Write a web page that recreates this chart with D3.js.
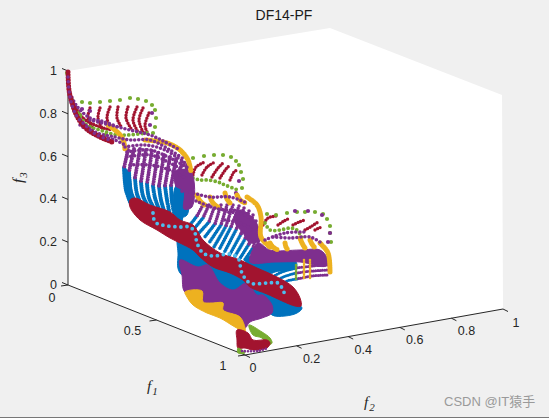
<!DOCTYPE html>
<html>
<head>
<meta charset="utf-8">
<script src="https://cdnjs.cloudflare.com/ajax/libs/d3/7.8.5/d3.min.js"></script>
<style>
  body { margin: 0; background: #f0f0f0; }
  svg { display: block; }
</style>
</head>
<body>
<svg id="chart" width="549" height="418"></svg>
<script>
// ticks
const f1Ticks = [0, 0.5, 1];
const f2Ticks = [0, 0.2, 0.4, 0.6, 0.8, 1];
const f3Ticks = [0, 0.2, 0.4, 0.6, 0.8, 1];

// the cloud can only be read as seen from this camera, so every value below is
// [across, up] in the plane of the picture, not a real f1,f2,f3 triple
const fanOuter = [
  [7,91.5],[11,91],[16,91.5],[21,92],[26,92.5],[31,93.5],[35,93],[39,92],[42,90],[43.5,87.5],[44,83.5],[43.5,79],[42.5,76],
  [62.5,63.5],[68,64.5],[73,65],[77.5,65],[81.5,64],[84,62],[85.5,60],[86.5,56.5],[87.5,53],[87,48.5],
  [99.5,35.5],[104,35],[109.5,36],[114.5,36.5],[118.5,36.5],[123.5,36.5],[127.5,35.5],[129.5,33],[131,29.5],[131,26],[131.5,21.5],
  [-0.5,106],[0,101],[2,92.5],[6,85],[11,79],[18.5,75]
];
const fanPurpleDots = [[85.5,52],[84,46],[113.5,37],[120,37],[127,35],[131,26],[130,21.5],[7,88],[11,87],[42,86],[41,80]];
const fanRed = [
  [[11,88.5],[10,84],[12,79]], [[16,88.5],[15,83.5],[17.5,77.5]], [[21,89],[19.5,83.5],[22,77.5]],
  [[25,89],[24.5,83.5],[27,78.5]], [[30,89],[29,83.5],[32,77.5]], [[34.5,89],[32.5,82.5],[35,76.5]],
  [[37.5,88.5],[35.5,82.5],[37.5,76.5]], [[40.5,86],[38.5,80],[39.5,76.5]],
  [[2,92.5],[7.5,83.5],[16,79],[22,77.5]],
  [[62.5,55],[64,59],[68.5,61.5]], [[67,55],[69.5,59],[73.5,61.5]], [[72,54],[75,58.5],[77.5,61]],
  [[76,53.5],[79,58],[81,60]], [[81,52.5],[83,56.5],[84.5,57.5]],
  [[97.5,30],[100,33.5],[104.5,34.5]], [[105,30],[108,32],[111,33.5]], [[112.5,30],[115.5,31.5],[118.5,32.5]],
  [[118.5,27.5],[122,29.5],[125,31.5]], [[123.5,27.5],[125.5,28.5],[127,29]]
];
const fanGreen = [
  [[5,86],[9.5,80],[16,77.5],[25,75],[39.5,76]],
  [[62.5,53.5],[66,52.5],[70,52.5],[75,51.5],[78.5,50],[85,47.5]],
  [[98.5,31],[101,27.5],[106,27.5],[111,28.5],[114.5,27.5],[117.5,22.5]]
];
const fanPurple = [
  [[6,82.5],[13.5,76.5],[23.5,74],[31,72.5],[41,72.5],[51,67.5],[58.5,62.5]],
  [[11,82.5],[21,80],[31,77.5],[41,75],[48.5,71.5],[56,67.5]],
  [[0.5,97.5],[4,90],[11,83.5],[18.5,81.5],[26,78.5]],
  [[6,80],[13.5,75],[23.5,72.5],[28.5,70]],
  [[28.5,69],[38.5,70],[48.5,67.5],[58.5,61]],
  [[29.5,66.5],[41,67.5],[51,63.5],[60,58.5]],
  [[29.5,64],[41,65],[51,61],[59,56.5]],
  [[31,60],[41,60],[51,57.5],[58.5,53.5]],
  [[61,46.5],[71,44],[81,44],[89.5,41]],
  [[64,42],[75,38],[85,37],[92,33]],
  [[78.5,36.5],[88.5,35],[94,30]],
  [[78.5,32.5],[88.5,30],[94,25]],
  [[102.5,24],[111,23.5],[121,24],[126,21.5]],
  [[98.5,22.5],[108.5,26],[118.5,26.5]]
];
const leftEdgeRed = [[0,106.5],[0.5,97.5],[2,91],[5,83.5],[10,77.5],[16,74],[22,71.5]];
const leftEdgePurple = [[0,104],[1,94],[4,85],[8.5,80],[14.5,75],[21,72.5]];

// first value is the ridge end, second the purple to blue change, rest is blue
const ribsUpper = [
  [[30,67.5],[28,58.5],[29,47.5],[31.5,40.5]], [[33,68],[30.5,56.5],[31.5,46.5],[34.5,39.5]],
  [[36,68],[33.5,53.5],[34.5,45.5],[37.5,38.5]], [[39,67.5],[36.5,51.5],[37.5,44.5],[40.5,38.5]],
  [[42,67],[39.5,50.5],[40.5,43.5],[43.5,37.5]], [[45,66],[42.5,49.5],[43.5,43.5],[46,36.5]],
  [[48,65],[45.5,49.5],[46.5,42.5],[48.5,35.5]], [[51,64],[48.5,49.5],[49.5,42.5],[51,34.5]],
  [[54,63],[51.5,49.5],[52,41.5],[53.5,34]], [[57,61.5],[54.5,49.5],[54.5,41.5],[55,33.5]],
  [[59.5,60],[57,46.5],[57,40.5],[56.5,32.5]]
];
const ribsMiddle = [
  [[67.5,40],[64.5,34.5],[61,30]], [[70.5,40],[67.5,33.5],[63,28]], [[73.5,40],[70.5,31.5],[65.5,26]],
  [[76.5,40],[73.5,30.5],[68,23.5]], [[79.5,40],[76.5,30],[70.5,21]], [[82.5,40],[79,29.5],[73,19]],
  [[85.5,39.5],[81.5,29],[75.5,17.5]], [[88,38.5],[84,27.5],[78,16]], [[90.5,37],[86.5,25.5],[80.5,14.5]],
  [[92.5,35],[88.5,23],[83,13.5]], [[94,32],[90.5,20.5],[85.5,12.5]], [[95.5,28.5],[92.5,18.5],[88,12]],
  [[96,24.5],[94,17.5],[91,11]]
];
const ribsLowerPurple = [
  [[130,10],[122,9.5],[114,8.5]], [[130.5,7.5],[122,7],[114,6]], [[129.5,5],[122,4.5],[114.5,3]]
];
const ribsLowerBlue = [
  [[114,8.5],[107,6.5],[101,3.5]], [[114,6],[107.5,4],[102.5,1]], [[114.5,3],[109.5,2],[105.5,-0.5]]
];

const goldRidges = [
  [[20,80],[23.5,77.5],[26.5,74.5],[28,71],[28.5,67.5]],
  [[38.5,72.5],[49.5,71],[56,67.5],[60,62.5],[61.5,56.5]],
  [[64.5,45],[66,42],[68.5,40]], [[71,44],[72.5,41],[75,39]], [[78.5,46],[79.5,43],[81,41]], [[84.5,45],[86,42.5],[88.5,41]],
  [[89.5,44],[94.5,40],[96.5,34],[96.5,24],[101,19]],
  [[101,21],[102.5,19],[105,17.5]], [[108.5,21],[109,19],[110,17.5]], [[116,23.5],[117,21],[118.5,18.5]], [[121,22.5],[122,20.5],[123.5,18.5]],
  [[126,21],[130,16],[131,6.5]]
];
const goldStubs = [[[118,12.5],[118,2.5]], [[121,12.5],[121,2.5]]];
const greenStubs = [[[114,10],[114,2.5]]];

// solid looking bands
const blueBlockLeft = [[28,58.5],[30.5,56.5],[32.5,45],[36,39],[31.5,40],[29,47.5]];
const blueBlockRight = [[54,49.5],[59,47.5],[59.5,35],[54,34]];
const blueBlockLow = [[88.5,13.5],[101,13.5],[114,11.5],[114,8.5],[103.5,6.5],[97,3.5],[91,8.5]];
const blueBand = [[55,24],[62.5,18.5],[66,15],[72.5,10],[81,7.5],[87.5,3.5],[91,0],[99.5,-3],[111,-7.5],[117,-11.5],[114.5,-14],[108.5,-15.5],[102,-15],[97.5,-8],[80,-4],[56,6],[55,16]];
const purpleBlock = [[53.5,57],[61.5,56.5],[62,39],[58,38],[58,47],[54,49.5]];
const purpleBlockMid = [[86,37.5],[94,31.5],[95.5,22.5],[91,21],[87.5,26],[83.5,31.5]];
const purpleBlockLow = [[95,21],[101,17.5],[116,17.5],[126,17.5],[129.5,13.5],[129,9.5],[116,11.5],[103.5,11.5],[91,11.5]];
const purpleBand = [[56,12.5],[65,9],[70,10],[76,1],[82.5,-2.5],[89.5,1],[94.5,-5],[97.5,-5],[102,-10],[102,-14],[97,-16.5],[91,-18.5],[88.5,-21.5],[86,-16],[77.5,-12.5],[77.5,-9],[72,-9],[67.5,-8.5],[67,-3],[58.5,-3.5],[57,5]];
const goldBand = [[58.5,-3.5],[67,-3],[67.5,-8.5],[72,-9],[77.5,-9],[77.5,-12.5],[86,-16],[88.5,-21.5],[88.5,-23.5],[83.5,-21],[76,-16.5],[69.5,-14],[62.5,-10],[59.5,-6]];
const redBand = [[31,42.5],[33.5,43.5],[41,40],[51,36.5],[56,32.5],[62.5,30],[65,26.5],[67.5,22.5],[76,16],[86,12.5],[94.5,8.5],[104.5,4],[112.5,-1],[116,-6.5],[116.5,-10.5],[113.5,-10.5],[99.5,-4.5],[91,-1],[87.5,2.5],[81,6],[72.5,9],[66,14],[62.5,17.5],[56,21],[51,23.5],[44.5,27.5],[36,32.5],[31,39]];
const capRed = [[84.5,-22.5],[90,-24],[92.5,-27.5],[99.5,-27.5],[101,-29],[99.5,-31.5],[92.5,-32.5],[88.5,-31.5],[85,-31.5],[84.5,-27.5]];
const capGreen = [[90.5,-20],[97,-23.5],[101,-26.5],[102,-29],[100,-30],[97,-26.5],[92.5,-25]];
const capTip = [[85,-31.5],[88.5,-34],[85,-34]];
const capEdge = [[87,-33],[95,-33],[100,-31.5]];
const cyanPath = [[42.5,36],[43.5,31.5],[47,30],[56,29],[61,29],[63.5,26],[64.5,21],[67.5,16],[72.5,14.5],[81,15.5],[85,13.5],[87,6],[91,1],[99.5,1],[105,1],[107.5,-2.5],[109,-6.5]];

const colors = { blue: "#0072BD", red: "#A2142F", gold: "#EDB120", purple: "#7E2F8E", green: "#77AC30", cyan: "#4DBEEE" };
const inkColor = "#262626";

const svg = d3.select("#chart");

// 3d box as it lands on screen
const boxCorners = [[68,71],[330,28],[502,95],[503,309],[245,355],[68,285]];
svg.append("polygon").attr("points", boxCorners.join(" ")).attr("fill", "#fff");

const f1Scale = d3.scaleLinear().domain([0, 1]).range([[68, 285], [245, 355]]);
const f2Scale = d3.scaleLinear().domain([0, 1]).range([[245, 355], [503, 309]]);
const f3Scale = d3.scaleLinear().domain([0, 1]).range([[68, 285], [68, 71]]);

// picture plane scales for the cloud
const vx = d3.scaleLinear().domain([0, 200]).range([68, 468]);
const vy = d3.scaleLinear().domain([0, 100]).range([285, 85]);

function drawAxis(scale, ticks, tickVec) {
  const g = svg.append("g").attr("stroke", inkColor).attr("fill", "none");
  g.append("line")
    .attr("x1", scale(0)[0]).attr("y1", scale(0)[1])
    .attr("x2", scale(1)[0]).attr("y2", scale(1)[1]);
  g.selectAll("line.tick").data(ticks).join("line")
    .attr("class", "tick")
    .attr("x1", d => scale(d)[0]).attr("y1", d => scale(d)[1])
    .attr("x2", d => scale(d)[0] + tickVec[0]).attr("y2", d => scale(d)[1] + tickVec[1]);
}
drawAxis(f1Scale, f1Ticks, [-7, 1]);
drawAxis(f2Scale, f2Ticks, [5, 2.5]);
drawAxis(f3Scale, f3Ticks, [-6, -2.5]);

function tickLabels(scale, ticks, anchor, dx, dy) {
  svg.append("g").selectAll("text").data(ticks).join("text")
    .attr("x", d => scale(d)[0] + dx(d))
    .attr("y", d => scale(d)[1] + dy(d))
    .attr("text-anchor", anchor)
    .attr("font-family", "'Liberation Sans', Arial, sans-serif")
    .attr("font-size", 12.5)
    .attr("fill", inkColor)
    .text(d => d);
}
tickLabels(f3Scale, f3Ticks, "end", () => -11, () => 4);
tickLabels(f1Scale, f1Ticks, "middle", d => d == 0 ? -16 : d == 1 ? -22 : -24, d => d == 0 ? 17 : 15);
tickLabels(f2Scale, f2Ticks, "middle", d => d == 0 ? 8 : d == 1 ? 13 : 15, d => d == 1 ? 18 : 17);

// cloud helpers
const smooth = d3.line().x(d => vx(d[0])).y(d => vy(d[1])).curve(d3.curveCatmullRom);
const closed = d3.line().x(d => vx(d[0])).y(d => vy(d[1])).curve(d3.curveCatmullRomClosed);

function dotted(rows, color, width, gap) {
  svg.append("g").selectAll("path").data(rows).join("path")
    .attr("d", smooth)
    .attr("fill", "none")
    .attr("stroke", color)
    .attr("stroke-width", width)
    .attr("stroke-linecap", "round")
    .attr("stroke-dasharray", `0 ${gap}`);
}
function band(points, color) {
  svg.append("path").attr("d", closed(points)).attr("fill", color).attr("stroke", color).attr("stroke-width", 1);
}
function dots(points, color) {
  svg.append("g").selectAll("circle").data(points).join("circle")
    .attr("cx", d => vx(d[0])).attr("cy", d => vy(d[1])).attr("r", 2.1).attr("fill", color);
}

dotted(fanRed, colors.red, 3.4, 2.8);
dotted(fanGreen, colors.green, 3.8, 4.5);
dots(fanOuter, colors.green);
dots(fanPurpleDots, colors.purple);

dotted(ribsUpper.map(r => r.slice(1)), colors.blue, 4.2, 2);
dotted(ribsMiddle.map(r => r.slice(1)), colors.blue, 3.6, 2);
dotted(ribsLowerBlue, colors.blue, 3, 2);
band(blueBlockLeft, colors.blue);
band(blueBlockRight, colors.blue);
band(blueBlockLow, colors.blue);

dotted(ribsUpper.map(r => r.slice(0, 2)), colors.purple, 4, 2.4);
dotted(ribsMiddle.map(r => r.slice(0, 2)), colors.purple, 3.6, 2.4);
band(purpleBlock, colors.purple);
band(purpleBlockMid, colors.purple);
band(purpleBlockLow, colors.purple);
dotted(ribsLowerPurple, colors.purple, 3, 2.2);

dotted(goldRidges, colors.gold, 5, 1.6);
dotted(goldStubs, colors.gold, 2.6, 2);
dotted(greenStubs, colors.green, 2.6, 2);
dotted(fanPurple, colors.purple, 3.6, 4);
dotted([leftEdgeRed], colors.red, 5, 2.8);
dotted([leftEdgePurple], colors.purple, 3.6, 5);

band(blueBand, colors.blue);
band(purpleBand, colors.purple);
band(goldBand, colors.gold);
band(redBand, colors.red);
band(capGreen, colors.green);
band(capRed, colors.red);
band(capTip, colors.green);
dotted([capEdge], colors.purple, 2.6, 3);
dotted([cyanPath], colors.cyan, 3.8, 6);

// text
svg.append("text").attr("x", 284).attr("y", 20).attr("text-anchor", "middle")
  .attr("font-family", "'Liberation Sans', Arial, sans-serif").attr("font-size", 14).attr("fill", "#1a1a1a")
  .text("DF14-PF");

function axisName(sub, transform) {
  const t = svg.append("text").attr("transform", transform)
    .attr("font-family", "'Liberation Serif', serif").attr("font-style", "italic")
    .attr("font-size", 15.5).attr("fill", inkColor);
  t.append("tspan").text("f");
  t.append("tspan").attr("dx", 1).attr("dy", 4).attr("font-size", 11).text(sub);
}
axisName("1", "translate(147,391)");
axisName("2", "translate(364,407)");
axisName("3", "translate(23,183) rotate(-90)");

svg.append("text").attr("x", 444).attr("y", 406)
  .attr("font-family", "'Liberation Sans', 'Noto Sans CJK SC', sans-serif").attr("font-size", 13).attr("fill", "#9a9a9a")
  .text("CSDN @IT猿手");

svg.append("rect").attr("x", 0).attr("y", 417).attr("width", 549).attr("height", 1).attr("fill", "#777");
</script>
</body>
</html>
